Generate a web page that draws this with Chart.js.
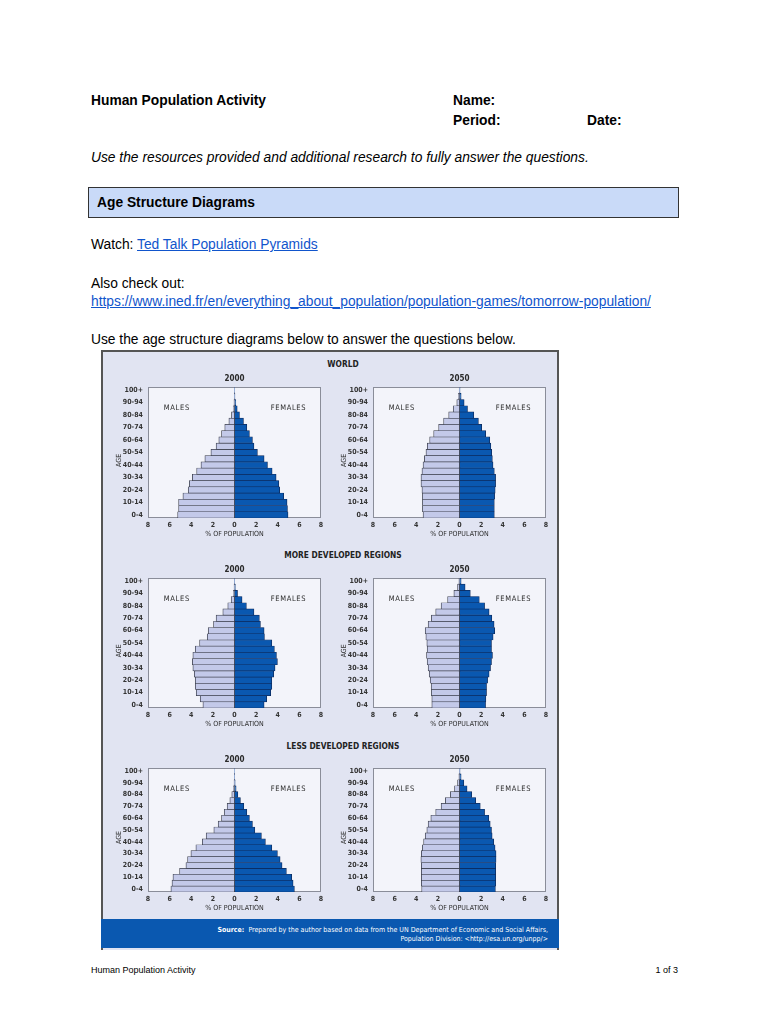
<!DOCTYPE html>
<html>
<head>
<meta charset="utf-8">
<title>Human Population Activity</title>
<script src="https://cdn.jsdelivr.net/npm/chart.js@4.4.1/dist/chart.umd.min.js"></script>
<style>
  body { margin: 0; width: 768px; height: 1024px; background: #fff; position: relative; overflow: hidden;
         font-family: "Liberation Sans", Arial, sans-serif; color: #000; }
  .t { position: absolute; font-size: 13.8px; line-height: 16px; white-space: nowrap; }
  .b { font-weight: bold; }
  a { color: #1155cc; text-decoration: underline; }
  #box { position: absolute; left: 88px; top: 187px; width: 589px; height: 29px; background: #c9daf8; border: 1px solid #333; }
  #info { position: absolute; left: 101px; top: 350px; width: 454px; height: 598px; background: #e1e4f2;
          border: 2px solid #555; border-bottom: none; }
  #infoFoot { position: absolute; left: 101px; top: 919px; width: 458px; height: 29px; background: #0a58b0; }
  .sec { position: absolute; left: 101px; width: 484px; text-align: center; font: bold 8.3px "Liberation Sans Narrow", "DejaVu Sans Condensed", sans-serif; color: #222; }
  .src { position: absolute; left: 101px; width: 447px; text-align: right; color: #fff; white-space: nowrap;
         font: 7px/9.5px "Liberation Sans Narrow", "DejaVu Sans Condensed", sans-serif; }
  canvas { position: absolute; }
</style>
</head>
<body>
<div class="t b" style="left:91px; top:93px;">Human Population Activity</div>
<div class="t b" style="left:453px; top:93px;">Name:</div>
<div class="t b" style="left:453px; top:113px;">Period:</div>
<div class="t b" style="left:587px; top:113px;">Date:</div>
<div class="t" style="left:91px; top:150px; font-style:italic;">Use the resources provided and additional research to fully answer the questions.</div>
<div id="box"></div>
<div class="t b" style="left:97px; top:195px;">Age Structure Diagrams</div>
<div class="t" style="left:91px; top:237px;">Watch: <a>Ted Talk Population Pyramids</a></div>
<div class="t" style="left:91px; top:276px;">Also check out:</div>
<div class="t" style="left:91px; top:294px;"><a>https://www.ined.fr/en/everything_about_population/population-games/tomorrow-population/</a></div>
<div class="t" style="left:91px; top:332px;">Use the age structure diagrams below to answer the questions below.</div>

<div id="info"></div>
<div class="sec" style="top:359px;">WORLD</div>
<div class="sec" style="top:550px;">MORE DEVELOPED REGIONS</div>
<div class="sec" style="top:741px;">LESS DEVELOPED REGIONS</div>
<canvas id="w2000"></canvas>
<canvas id="w2050"></canvas>
<canvas id="m2000"></canvas>
<canvas id="m2050"></canvas>
<canvas id="l2000"></canvas>
<canvas id="l2050"></canvas>
<div id="infoFoot"></div>
<div class="src" style="top:925.5px;"><b>Source:</b>&nbsp; Prepared by the author based on data from the UN Department of Economic and Social Affairs,</div>
<div class="src" style="top:935px;">Population Division: &lt;http://esa.un.org/unpp/&gt;</div>

<div class="t" style="left:91px; top:964px; font-size:9px; line-height:12px;">Human Population Activity</div>
<div class="t" style="left:640px; top:964px; width:38px; text-align:right; font-size:9px; line-height:12px;">1 of 3</div>

<script>
// age groups, bottom (0-4) to top (100+)
const ageGroups = ['0-4', '5-9', '10-14', '15-19', '20-24', '25-29', '30-34', '35-39', '40-44', '45-49',
  '50-54', '55-59', '60-64', '65-69', '70-74', '75-79', '80-84', '85-89', '90-94', '95-99', '100+'];
const xTicks = [-8, -6, -4, -2, 0, 2, 4, 6, 8];

// % of population
const world2000Males = [5.26, 5.17, 5.17, 4.77, 4.28, 4.18, 3.9, 3.5, 3.1, 2.74, 2.18, 1.7, 1.45, 1.2, 0.9, 0.52, 0.28, 0.12, 0.05, 0.02, 0.01];
const world2000Females = [4.95, 4.9, 4.86, 4.55, 4.18, 4.1, 3.85, 3.48, 3.05, 2.74, 2.12, 1.8, 1.66, 1.38, 1.14, 0.83, 0.46, 0.25, 0.12, 0.04, 0.01];
const world2050Males = [3.37, 3.43, 3.43, 3.43, 3.47, 3.56, 3.56, 3.47, 3.37, 3.25, 3.1, 2.98, 2.76, 2.39, 1.93, 1.47, 1.0, 0.58, 0.25, 0.1, 0.03];
const world2050Females = [3.22, 3.22, 3.22, 3.25, 3.3, 3.34, 3.34, 3.22, 3.1, 3.04, 2.98, 2.9, 2.8, 2.42, 2.05, 1.75, 1.32, 0.74, 0.43, 0.15, 0.05];
const moreDev2000Males = [2.92, 3.17, 3.54, 3.63, 3.63, 3.72, 3.85, 3.9, 3.85, 3.63, 3.23, 2.52, 2.43, 1.94, 1.7, 1.08, 0.62, 0.31, 0.1, 0.04, 0.01];
const moreDev2000Females = [2.74, 2.98, 3.35, 3.45, 3.45, 3.63, 3.75, 3.97, 3.88, 3.69, 3.45, 2.77, 2.74, 2.4, 2.3, 1.8, 1.1, 0.7, 0.28, 0.08, 0.02];
const moreDev2050Males = [2.56, 2.56, 2.6, 2.62, 2.71, 2.8, 2.9, 2.99, 3.05, 2.99, 3.02, 3.11, 3.17, 2.9, 2.6, 2.2, 1.7, 1.1, 0.52, 0.18, 0.06];
const moreDev2050Females = [2.41, 2.44, 2.5, 2.5, 2.6, 2.74, 2.87, 2.96, 3.05, 2.96, 2.96, 3.11, 3.26, 3.2, 2.99, 2.74, 2.32, 1.83, 1.0, 0.52, 0.15];
const lessDev2000Males = [5.88, 5.78, 5.69, 5.08, 4.49, 4.34, 4.03, 3.57, 2.98, 2.62, 1.91, 1.51, 1.2, 0.95, 0.68, 0.43, 0.25, 0.1, 0.04, 0.01, 0.005];
const lessDev2000Females = [5.54, 5.42, 5.29, 4.8, 4.4, 4.22, 3.97, 3.45, 2.86, 2.49, 1.88, 1.66, 1.38, 1.14, 0.86, 0.55, 0.31, 0.15, 0.06, 0.02, 0.005];
const lessDev2050Males = [3.5, 3.53, 3.53, 3.53, 3.53, 3.57, 3.53, 3.44, 3.32, 3.17, 3.02, 2.9, 2.65, 2.2, 1.7, 1.31, 0.85, 0.46, 0.18, 0.06, 0.02];
const lessDev2050Females = [3.32, 3.35, 3.35, 3.35, 3.35, 3.38, 3.38, 3.29, 3.17, 3.02, 2.96, 2.84, 2.71, 2.32, 1.92, 1.5, 1.13, 0.7, 0.4, 0.15, 0.05];

const narrow = '"Liberation Sans Narrow", "DejaVu Sans Condensed", sans-serif';

// fond clair, cadre et textes autour de chaque pyramide
const pyramidDecor = {
  id: 'pyramidDecor',
  beforeDatasetsDraw(chart) {
    const { ctx, chartArea: a } = chart;
    ctx.save();
    ctx.fillStyle = '#f3f4fa';
    ctx.fillRect(a.left, a.top, a.width, a.height);
    ctx.strokeStyle = '#8a8d99';
    ctx.lineWidth = 1;
    ctx.strokeRect(a.left + 0.5, a.top + 0.5, a.width - 1, a.height - 1);
    ctx.restore();
  },
  afterDraw(chart, args, opts) {
    const { ctx, chartArea: a } = chart;
    const x0 = chart.scales.x.getPixelForValue(0);
    ctx.save();
    ctx.fillStyle = '#2a2a2a';
    ctx.textAlign = 'center';
    ctx.textBaseline = 'middle';
    ctx.font = 'bold 8px ' + narrow;
    ctx.fillText(opts.year, x0, a.top - 8);
    ctx.font = '7.5px ' + narrow;
    ctx.fillText('M A L E S'.replace(/ /g, '\u200a'), a.left + a.width * 0.165, a.top + 21);
    ctx.fillText('F E M A L E S'.replace(/ /g, '\u200a'), a.left + a.width * 0.81, a.top + 21);
    ctx.font = '7px ' + narrow;
    ctx.fillText('% OF POPULATION', x0, a.bottom + 16);
    ctx.translate(a.left - 29, a.top + a.height * 0.56);
    ctx.rotate(-Math.PI / 2);
    ctx.fillText('AGE', 0, 0);
    ctx.restore();
  }
};

function makePyramid(id, plotLeft, plotTop, plotHeight, year, males, females) {
  const plotWidth = 173;
  const canvas = document.getElementById(id);
  canvas.style.left = (plotLeft - 40) + 'px';
  canvas.style.top = (plotTop - 20) + 'px';
  canvas.style.width = (40 + plotWidth + 6) + 'px';
  canvas.style.height = (20 + plotHeight + 24) + 'px';
  canvas.width = 40 + plotWidth + 6;
  canvas.height = 20 + plotHeight + 24;

  return new Chart(canvas.getContext('2d'), {
    type: 'bar',
    data: {
      labels: ageGroups,
      datasets: [{
        label: 'Males',
        data: males.map(v => -v),
        backgroundColor: '#c3c9e9',
        borderColor: '#3a3d4a',
        borderWidth: { top: 0.6, bottom: 0.6, left: 0.8, right: 0.8 },
        borderSkipped: false
      }, {
        label: 'Females',
        data: females,
        backgroundColor: '#0a58b0',
        borderColor: '#0d2a5c',
        borderWidth: { top: 0.6, bottom: 0.6, left: 0.8, right: 0.8 },
        borderSkipped: false
      }]
    },
    options: {
      indexAxis: 'y',
      responsive: false,
      animation: false,
      barPercentage: 1,
      categoryPercentage: 1,
      layout: { padding: { top: 20, right: 6, left: 0, bottom: 0 } },
      scales: {
        x: {
          stacked: true,
          min: -8,
          max: 8,
          afterBuildTicks: axis => { axis.ticks = xTicks.map(v => ({ value: v })); },
          afterFit: axis => { axis.height = 24; },
          grid: { display: false, drawTicks: false },
          border: { display: false },
          ticks: {
            padding: 3,
            maxRotation: 0,
            color: '#333',
            font: { family: narrow, size: 7, weight: 'bold' },
            callback: v => Math.abs(v)
          }
        },
        y: {
          stacked: true,
          reverse: true,
          afterFit: axis => { axis.width = 40; },
          grid: { display: false, drawTicks: false },
          border: { display: false },
          ticks: {
            padding: 5,
            autoSkip: false,
            color: '#333',
            font: { family: narrow, size: 7, weight: 'bold' },
            callback: (v, i) => (i % 2 === 0 ? ageGroups[i] : '')
          }
        }
      },
      plugins: {
        legend: { display: false },
        tooltip: { enabled: false },
        pyramidDecor: { year: year }
      }
    },
    plugins: [pyramidDecor]
  });
}

makePyramid('w2000', 148, 387, 131, '2000', world2000Males, world2000Females);
makePyramid('w2050', 373, 387, 131, '2050', world2050Males, world2050Females);
makePyramid('m2000', 148, 578, 130, '2000', moreDev2000Males, moreDev2000Females);
makePyramid('m2050', 373, 578, 130, '2050', moreDev2050Males, moreDev2050Females);
makePyramid('l2000', 148, 768, 124, '2000', lessDev2000Males, lessDev2000Females);
makePyramid('l2050', 373, 768, 124, '2050', lessDev2050Males, lessDev2050Females);
</script>
</body>
</html>
